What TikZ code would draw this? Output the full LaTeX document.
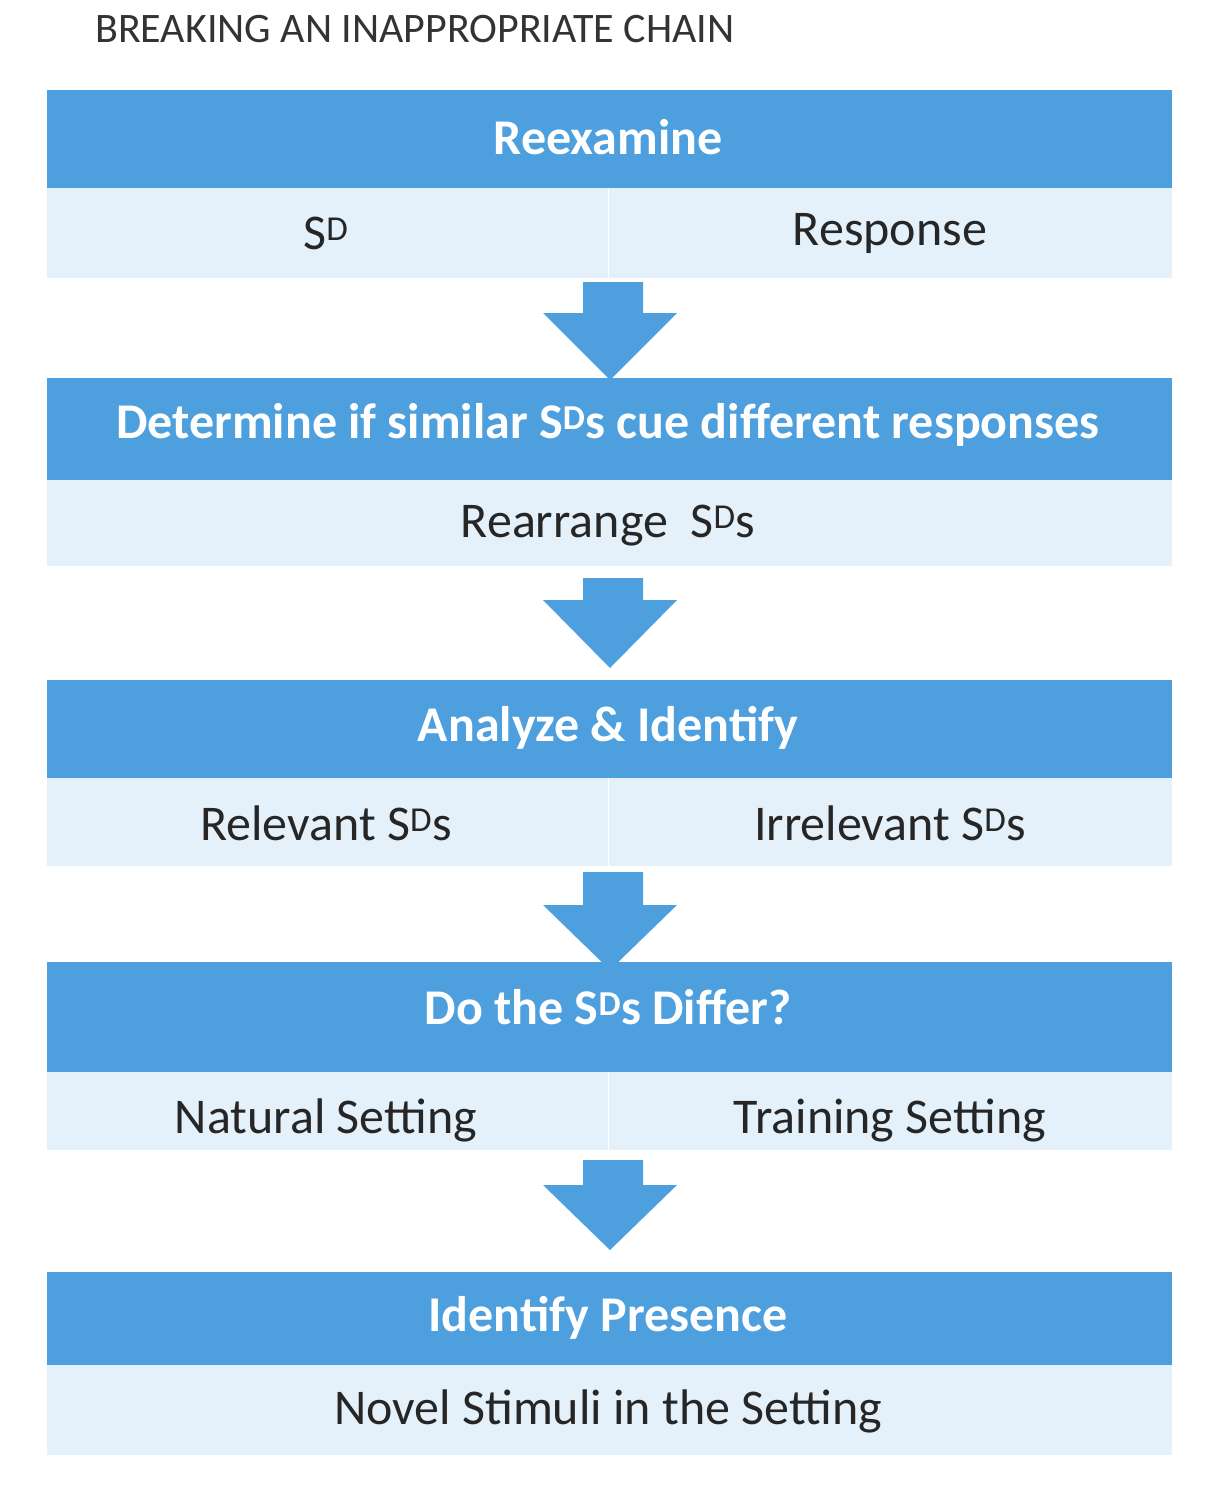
\documentclass[tikz,border=0pt]{standalone}
\usepackage{fontspec}
\setmainfont{Carlito}
\newcommand{\SD}{S\textsuperscript{D}}
\begin{document}
\begin{tikzpicture}[x=1pt,y=-1pt,
  hdr/.style={fill=dk,draw=none},
  lt/.style={fill=lt,draw=none},
  htxt/.style={font=\fontsize{50}{54}\selectfont\bfseries,text=white},
  ltxt/.style={font=\fontsize{50}{54}\selectfont,text=black!85},
  arr/.style={fill=dk,draw=none}]
\definecolor{dk}{HTML}{4D9FDD}
\definecolor{lt}{HTML}{E5F1FA}
\useasboundingbox (0,0) rectangle (1228,1498);
\node[anchor=west,font=\fontsize{42}{46}\selectfont,text=black!80,inner sep=0pt] (title) at (95,29) {BREAKING AN INAPPROPRIATE CHAIN};
% block 1
\fill[hdr] (47,90) rectangle (1172,188);
\fill[lt] (47,188) rectangle (1172,278);
\draw[white,line width=1pt] (608,188) -- (608,278);
\node[htxt] (h1) at (608,137) {Reexamine};
\node[ltxt] (l1a) at (326,233) {\SD};
\node[ltxt] (l1b) at (890,233) {Response};
% arrow 1
\fill[arr] (583,282) -- (643,282) -- (643,313) -- (677,313) -- (610,380) -- (543,313) -- (583,313) -- cycle;
% block 2
\fill[hdr] (47,378) rectangle (1172,480);
\fill[lt] (47,480) rectangle (1172,566);
\node[htxt] (h2) at (608,425) {Determine if similar \SD s cue different responses};
\node[ltxt] (l2) at (608,526) {Rearrange\ \ \SD s};
% arrow 2
\fill[arr] (583,578) -- (643,578) -- (643,600) -- (677,600) -- (610,668) -- (543,600) -- (583,600) -- cycle;
% block 3
\fill[hdr] (47,680) rectangle (1172,778);
\fill[lt] (47,778) rectangle (1172,866);
\draw[white,line width=1pt] (608,778) -- (608,866);
\node[htxt] (h3) at (608,728) {Analyze \& Identify};
\node[ltxt] (l3a) at (326,823) {Relevant \SD s};
\node[ltxt] (l3b) at (890,823) {Irrelevant \SD s};
% arrow 3
\fill[arr] (583,872) -- (643,872) -- (643,905) -- (677,905) -- (610,970) -- (543,905) -- (583,905) -- cycle;
% block 4
\fill[hdr] (47,962) rectangle (1172,1072);
\fill[lt] (47,1072) rectangle (1172,1150);
\draw[white,line width=1pt] (608,1072) -- (608,1150);
\node[htxt] (h4) at (608,1007) {Do the \SD s Differ?};
\node[ltxt] (l4a) at (326,1120) {Natural Setting};
\node[ltxt] (l4b) at (890,1120) {Training Setting};
% arrow 4
\fill[arr] (583,1160) -- (643,1160) -- (643,1185) -- (677,1185) -- (610,1250) -- (543,1185) -- (583,1185) -- cycle;
% block 5
\fill[hdr] (47,1272) rectangle (1172,1365);
\fill[lt] (47,1365) rectangle (1172,1455);
\node[htxt] (h5) at (608,1318) {Identify Presence};
\node[ltxt] (l5) at (608,1411) {Novel Stimuli in the Setting};
\end{tikzpicture}
\end{document}
